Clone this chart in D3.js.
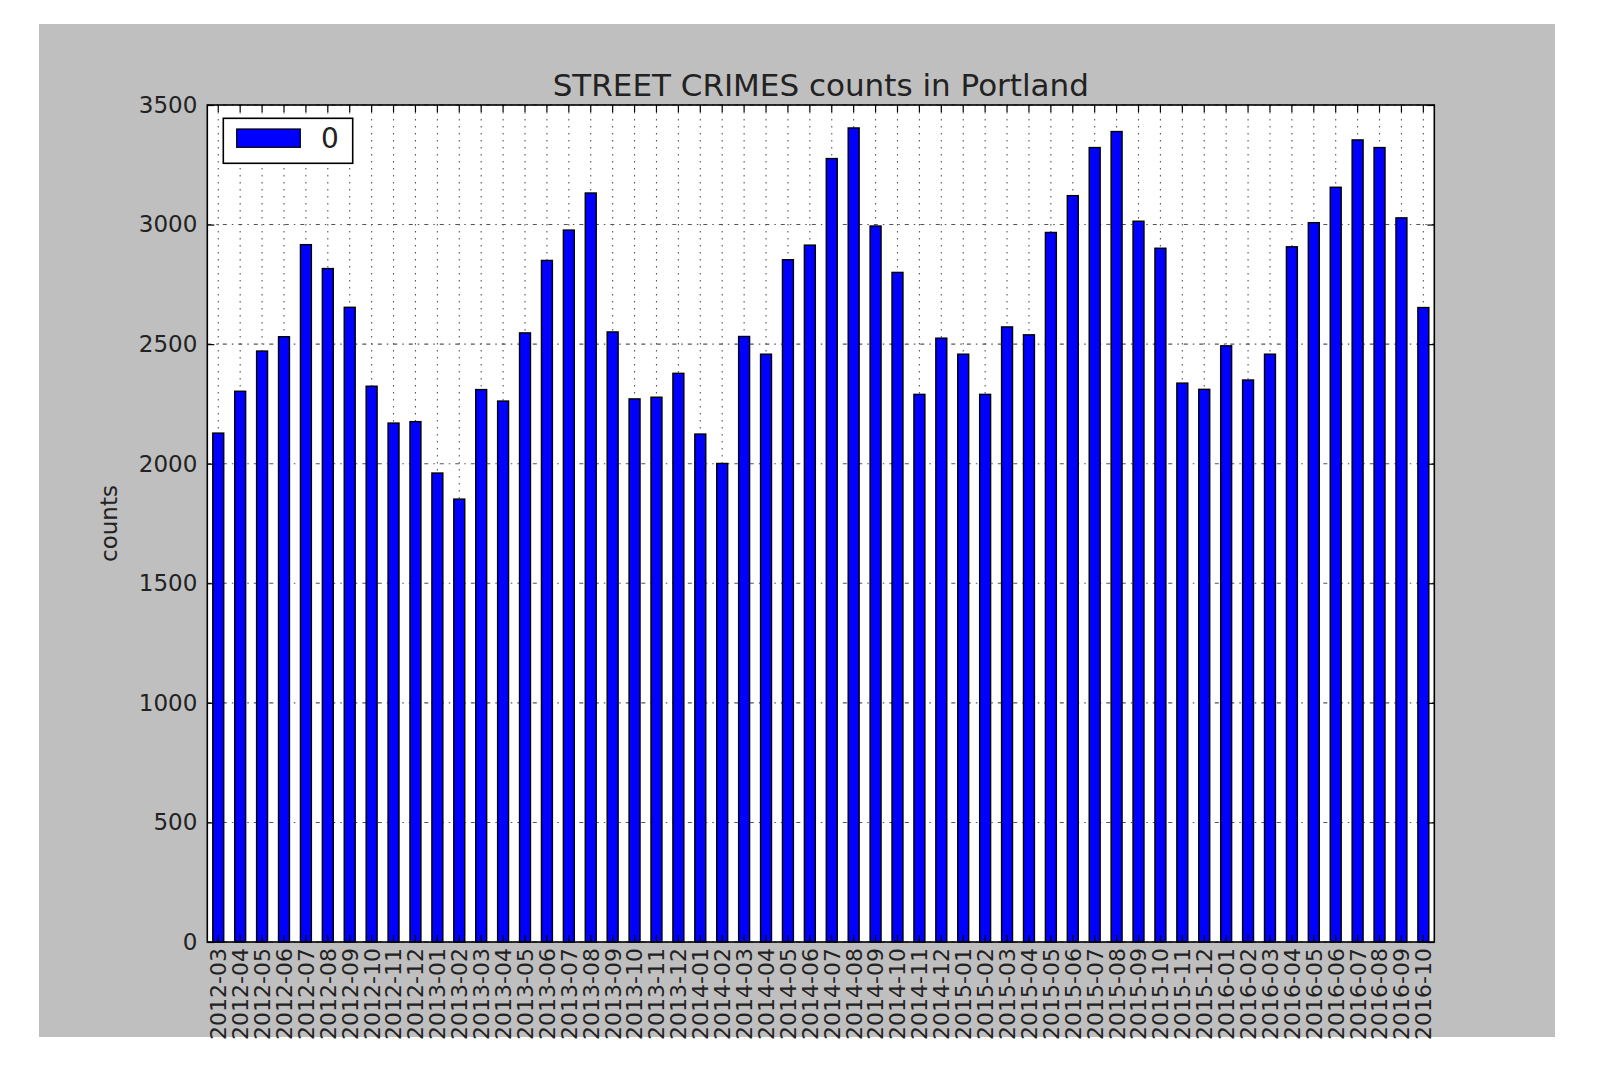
<!DOCTYPE html>
<html>
<head>
<meta charset="utf-8">
<script src="https://cdn.jsdelivr.net/npm/d3@7"></script>
<style>
  html, body { margin: 0; padding: 0; background: #ffffff; }
  svg { display: block; }
  text { font-family: "DejaVu Sans", sans-serif; fill: #000; }
</style>
</head>
<body>
<script>
// ---------- data ----------
const months = [
  "2012-03","2012-04","2012-05","2012-06","2012-07","2012-08","2012-09","2012-10","2012-11","2012-12",
  "2013-01","2013-02","2013-03","2013-04","2013-05","2013-06","2013-07","2013-08","2013-09","2013-10","2013-11","2013-12",
  "2014-01","2014-02","2014-03","2014-04","2014-05","2014-06","2014-07","2014-08","2014-09","2014-10","2014-11","2014-12",
  "2015-01","2015-02","2015-03","2015-04","2015-05","2015-06","2015-07","2015-08","2015-09","2015-10","2015-11","2015-12",
  "2016-01","2016-02","2016-03","2016-04","2016-05","2016-06","2016-07","2016-08","2016-09","2016-10"
];
const counts = [
  2128, 2303, 2471, 2531, 2916, 2816, 2654, 2324, 2170, 2176,
  1961, 1852, 2310, 2262, 2547, 2850, 2977, 3132, 2551, 2271, 2278, 2378,
  2124, 2001, 2532, 2458, 2853, 2914, 3276, 3404, 2994, 2800, 2290, 2525,
  2458, 2290, 2572, 2539, 2967, 3121, 3322, 3389, 3014, 2901, 2337, 2311,
  2493, 2350, 2458, 2907, 3008, 3156, 3354, 3322, 3028, 2653
];
const yTicks = [0, 500, 1000, 1500, 2000, 2500, 3000, 3500];
const seriesName = "0";
const titleText = "STREET CRIMES counts in Portland";
const yLabel = "counts";

// ---------- layout ----------
const W = 1600, H = 1070;
const plot = { left: 207.3, right: 1434.3, top: 105, bottom: 942 };

const svg = d3.select("body").append("svg")
  .attr("width", W).attr("height", H);

// figure background
svg.append("rect")
  .attr("x", 39).attr("y", 24).attr("width", 1555 - 39).attr("height", 1037 - 24)
  .attr("fill", "#bfbfbf");

// axes background
svg.append("rect")
  .attr("x", plot.left).attr("y", plot.top)
  .attr("width", plot.right - plot.left).attr("height", plot.bottom - plot.top)
  .attr("fill", "#ffffff");

const x = d3.scaleBand().domain(months).range([plot.left, plot.right]).padding(0);
const y = d3.scaleLinear().domain([0, 3500]).range([plot.bottom, plot.top]);
const bw = x.bandwidth();

// grid
const grid = svg.append("g").attr("stroke", "#555").attr("stroke-width", 1.1)
  .attr("stroke-dasharray", "1.5,5.5");
grid.selectAll("line.v").data(months).enter().append("line")
  .attr("x1", d => x(d) + bw / 2).attr("x2", d => x(d) + bw / 2)
  .attr("y1", plot.top).attr("y2", plot.bottom);
grid.selectAll("line.h").data(yTicks).enter().append("line")
  .attr("x1", plot.left).attr("x2", plot.right)
  .attr("y1", d => y(d)).attr("y2", d => y(d))
  .attr("stroke-dasharray", "4,5,1.5,5");

// bars
svg.append("g").selectAll("rect").data(months).enter().append("rect")
  .attr("x", (d) => x(d) + bw * 0.25)
  .attr("width", bw * 0.5)
  .attr("y", (d, i) => y(counts[i]))
  .attr("height", (d, i) => y(0) - y(counts[i]))
  .attr("fill", "#0000ff")
  .attr("stroke", "#000")
  .attr("stroke-width", 1.4);

// axes
const fs = 23;
const gLeft = svg.append("g").attr("transform", `translate(${plot.left},0)`)
  .call(d3.axisLeft(y).tickValues(yTicks).tickSize(-7).tickPadding(10).tickFormat(d3.format("d")));
gLeft.selectAll("text").style("font-size", fs + "px").style("fill", "#222");

const gRight = svg.append("g").attr("transform", `translate(${plot.right},0)`)
  .call(d3.axisRight(y).tickValues(yTicks).tickSize(-7).tickFormat(""));

const gTop = svg.append("g").attr("transform", `translate(0,${plot.top})`)
  .call(d3.axisTop(x).tickSize(-7).tickFormat(""));

const gBottom = svg.append("g").attr("transform", `translate(0,${plot.bottom})`)
  .call(d3.axisBottom(x).tickSize(-7).tickPadding(6));
gBottom.selectAll("text")
  .attr("transform", "rotate(-90)")
  .attr("text-anchor", "end")
  .attr("x", -6).attr("y", 0).attr("dy", "0.36em")
  .style("font-size", "22px").style("fill", "#222");

[gLeft, gRight, gTop, gBottom].forEach(g => {
  g.select(".domain").remove();
  g.selectAll(".tick line").attr("stroke", "#000").attr("stroke-width", 1.2);
});

// frame
svg.append("rect")
  .attr("x", plot.left).attr("y", plot.top)
  .attr("width", plot.right - plot.left).attr("height", plot.bottom - plot.top)
  .attr("fill", "none").attr("stroke", "#000").attr("stroke-width", 1.6);

// title
svg.append("text")
  .attr("x", (plot.left + plot.right) / 2).attr("y", 96)
  .attr("text-anchor", "middle")
  .style("font-size", "31px").style("fill", "#222")
  .text(titleText);

// y label
svg.append("text")
  .attr("transform", `translate(117,${(plot.top + plot.bottom) / 2}) rotate(-90)`)
  .attr("text-anchor", "middle")
  .style("font-size", "23px").style("fill", "#222")
  .text(yLabel);

// legend
const lg = svg.append("g");
lg.append("rect")
  .attr("x", 223.3).attr("y", 118.3).attr("width", 129.4).attr("height", 45)
  .attr("fill", "#fff").attr("stroke", "#000").attr("stroke-width", 1.6);
lg.append("rect")
  .attr("x", 236.7).attr("y", 129).attr("width", 63.6).attr("height", 18.3)
  .attr("fill", "#0000ff").attr("stroke", "#000").attr("stroke-width", 1.2);
lg.append("text")
  .attr("x", 321).attr("y", 148)
  .style("font-size", "28px").style("fill", "#222")
  .text(seriesName);
</script>
</body>
</html>
